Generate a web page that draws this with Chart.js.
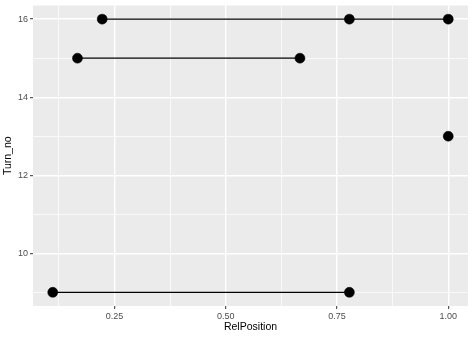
<!DOCTYPE html>
<html>
<head>
<meta charset="utf-8">
<script src="https://cdn.jsdelivr.net/npm/chart.js@4"></script>
<style>
  html, body { margin: 0; padding: 0; background: #fff; }
  #wrap { width: 474px; height: 338px; }
</style>
</head>
<body>
<div id="wrap"><canvas id="mycanvas" width="474" height="338"></canvas></div>
<script>
// one group per Turn_no, RelPosition values for each
var turns = [16, 15, 13, 9];
var relPos = [
    [2/9, 7/9, 1],
    [1/6, 2/3],
    [1],
    [1/9, 7/9]
];

var xTicks = [0.25, 0.5, 0.75, 1.0];
var xMinor = [0.125, 0.375, 0.625, 0.875];
var yTicks = [10, 12, 14, 16];
var yMinor = [9, 11, 13, 15];

var xMin = 0.0667, xMax = 1.0444;
var yMin = 8.65, yMax = 16.35;

var datasets = [];
for (var i in turns) {
    var pts = [];
    for (var j in relPos[i]) {
        pts.push({x: relPos[i][j], y: turns[i]});
    }
    datasets.push({
        data: pts,
        showLine: true,
        borderColor: '#000',
        borderWidth: 1.3,
        backgroundColor: '#000',
        pointBackgroundColor: '#000',
        pointBorderColor: '#000',
        pointBorderWidth: 0.5,
        pointRadius: 5,
        pointHoverRadius: 5
    });
}

function isMajor(list, v) {
    for (var k in list) {
        if (Math.abs(list[k] - v) < 1e-6) return true;
    }
    return false;
}

function allTicks(major, minor) {
    return major.concat(minor).sort(function(a, b) { return a - b; }).map(function(v) { return {value: v}; });
}

var panelBg = {
    id: 'panelBg',
    beforeDraw: function(chart) {
        var a = chart.chartArea, c = chart.ctx;
        c.save();
        c.fillStyle = '#EBEBEB';
        c.fillRect(a.left, a.top, a.right - a.left, a.bottom - a.top);
        c.restore();
    }
};

var tickFont = {family: 'Liberation Sans, Arial, sans-serif', size: 9};
var titleFont = {family: 'Liberation Sans, Arial, sans-serif', size: 10.5};

var ctx = document.getElementById('mycanvas');
var chart = new Chart(ctx, {
    type: 'scatter',
    data: {datasets: datasets},
    plugins: [panelBg],
    options: {
        responsive: false,
        animation: false,
        events: [],
        layout: {padding: {left: 0, right: 6, top: 4, bottom: 0}},
        plugins: {legend: {display: false}, tooltip: {enabled: false}},
        scales: {
            x: {
                type: 'linear',
                min: xMin,
                max: xMax,
                afterBuildTicks: function(s) { s.ticks = allTicks(xTicks, xMinor); },
                afterFit: function(s) { s.height = 32; s.paddingLeft = 0; s.paddingRight = 0; },
                border: {display: false},
                grid: {
                    color: '#FFFFFF',
                    lineWidth: function(c) { return isMajor(xTicks, c.tick.value) ? 1.4 : 0.7; },
                    tickColor: function(c) { return isMajor(xTicks, c.tick.value) ? '#333333' : 'rgba(0,0,0,0)'; },
                    tickLength: 3,
                    tickWidth: 1
                },
                ticks: {
                    autoSkip: false,
                    maxRotation: 0,
                    padding: 2,
                    color: '#4D4D4D',
                    font: tickFont,
                    callback: function(v) { return isMajor(xTicks, v) ? v.toFixed(2) : ''; }
                },
                title: {
                    display: true,
                    text: 'RelPosition',
                    color: '#000',
                    font: titleFont,
                    padding: {top: 0, bottom: 5}
                }
            },
            y: {
                type: 'linear',
                min: yMin,
                max: yMax,
                afterBuildTicks: function(s) { s.ticks = allTicks(yTicks, yMinor); },
                afterFit: function(s) { s.width = 33; s.paddingTop = 0; s.paddingBottom = 0; },
                border: {display: false},
                grid: {
                    color: '#FFFFFF',
                    lineWidth: function(c) { return isMajor(yTicks, c.tick.value) ? 1.4 : 0.7; },
                    tickColor: function(c) { return isMajor(yTicks, c.tick.value) ? '#333333' : 'rgba(0,0,0,0)'; },
                    tickLength: 3,
                    tickWidth: 1
                },
                ticks: {
                    autoSkip: false,
                    padding: 2,
                    color: '#4D4D4D',
                    font: tickFont,
                    callback: function(v) { return isMajor(yTicks, v) ? String(v) : ''; }
                },
                title: {
                    display: true,
                    text: 'Turn_no',
                    color: '#000',
                    font: titleFont,
                    padding: {top: 2, bottom: 0}
                }
            }
        }
    }
});
</script>
</body>
</html>
